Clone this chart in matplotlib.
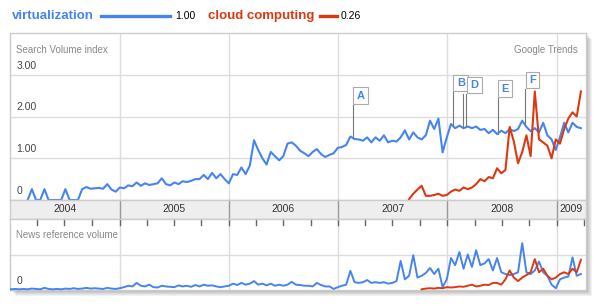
import numpy as np
import pandas as pd
import matplotlib
matplotlib.use("Agg")
import matplotlib.pyplot as plt
import matplotlib.dates as mdates
from matplotlib.patches import Rectangle

plt.rcParams['font.family'] = ['Liberation Sans', 'DejaVu Sans']

# biweekly samples
dates = pd.date_range('2004-01-04', periods=137, freq='14D')

search_virt = [
    np.nan, np.nan, np.nan, np.nan, 0, 0.26, 0, 0, 0.26, 0, 0, 0, 0, 0.26, 0, 0, 0,
    0.26, 0.31, 0.27, 0.28, 0.29, 0.27, 0.38, 0.25, 0.2,
    0.3, 0.28, 0.35, 0.33, 0.42, 0.34, 0.4, 0.36, 0.38, 0.4, 0.52, 0.38, 0.35,
    0.42, 0.38, 0.45, 0.43, 0.46, 0.5, 0.5, 0.6, 0.5, 0.65, 0.52, 0.62, 0.5,
    0.4, 0.62, 0.6, 0.78, 0.62, 0.82, 1.43, 1.2, 1.0, 0.85, 1.15, 1.05, 0.95,
    1.05, 1.35, 1.38, 1.3, 1.18, 1.12, 1.05, 1.15, 1.22, 1.1, 1.03, 1.08, 1.12,
    1.25, 1.27, 1.32, 1.52, 1.46, 1.45, 1.42, 1.5, 1.38, 1.5, 1.42, 1.55, 1.38,
    1.42, 1.4, 1.5, 1.67, 1.45, 1.62, 1.5, 1.45, 1.55, 1.9, 1.7, 1.95, 1.14,
    1.5, 1.82, 1.72, 1.78, 1.72, 1.76, 1.72, 1.76, 1.68, 1.7, 1.6, 1.68, 1.58,
    1.66, 1.6, 1.7, 1.65, 1.7, 1.9, 1.75, 1.65, 1.72, 1.62, 1.85, 1.55, 1.45,
    1.2, 1.5, 1.85, 1.62, 1.85, 1.75, 1.72,
]

search_cloud = [np.nan] * 95 + [
    0.02, 0.15, 0.25, 0.34, 0.1, 0.1, 0.12, 0.15, 0.1,
    0.12, 0.2, 0.25, 0.22, 0.3, 0.26, 0.3, 0.38, 0.5, 0.45, 0.55, 0.52, 0.76,
    0.64, 0.72, 1.75, 1.4, 0.88, 1.15, 1.55, 1.05, 2.6, 1.45, 1.38, 1.3, 1.0,
    1.45, 1.35, 1.7, 1.95, 2.1, 2.0, 2.6,
]

news_virt = [
    0.02, 0.03, 0.02, 0.03, 0.02, 0.04, 0.03, 0.02, 0.06, 0.03, 0.02, 0.03, 0.02,
    0.04, 0.03, 0.05, 0.03, 0.04, 0.06, 0.04, 0.05, 0.04, 0.03, 0.06, 0.04, 0.03,
    0.05, 0.08, 0.12, 0.1, 0.2, 0.12, 0.1, 0.15, 0.08, 0.07, 0.12, 0.1, 0.09,
    0.08, 0.13, 0.1, 0.12, 0.09, 0.14, 0.1, 0.15, 0.12, 0.13, 0.1, 0.08, 0.1,
    0.12, 0.18, 0.14, 0.2, 0.15, 0.18, 0.25, 0.15, 0.18, 0.13, 0.18, 0.12, 0.15,
    0.12, 0.15, 0.23, 0.15, 0.14, 0.12, 0.12, 0.1, 0.2, 0.14, 0.1, 0.1, 0.03,
    0.08, 0.12, 0.15, 0.54, 0.22, 0.2, 0.22, 0.28, 0.2, 0.22, 0.2, 0.22, 0.18,
    0.2, 0.25, 0.82, 0.3, 0.4, 0.98, 0.35, 0.4, 0.48, 0.62, 0.45, 0.6, 0.08,
    0.3, 0.9, 0.7, 1.07, 0.6, 1.0, 0.65, 1.12, 0.7, 0.75, 0.87, 0.55, 0.9,
    0.5, 0.45, 0.42, 0.45, 0.5, 1.32, 0.5, 0.45, 0.55, 0.8, 0.5, 0.4, 0.15,
    0.05, 0.3, 0.35, 0.38, 0.92, 0.4, 0.45,
]

news_cloud = [np.nan] * 98 + [
    0.02, 0.04, 0.05, 0.04, 0.06, 0.05,
    0.08, 0.07, 0.08, 0.1, 0.09, 0.12, 0.15, 0.1, 0.12, 0.15, 0.14, 0.2, 0.2,
    0.15, 0.3, 0.55, 0.35, 0.25, 0.35, 0.42, 0.5, 0.87, 0.5, 0.6, 0.4, 0.3,
    0.35, 0.45, 0.5, 0.45, 0.6, 0.5, 0.85,
]

years = ['2004', '2005', '2006', '2007', '2008', '2009']
# C sits fully behind D in the picture, so only its stem shows
event_letters = ['A', 'B', 'C', 'D', 'E', 'F']
event_dates = ['2007-02-19', '2008-01-19', '2008-02-21', '2008-03-04', '2008-06-17', '2008-09-16']
event_box_y = [2.28, 2.59, 2.54, 2.54, 2.45, 2.66]
event_shown = [True, True, False, True, True, True]

BLUE = '#4684ee'
RED = '#dc3912'
GRID = '#dddddd'

W, H = 600, 306
fig = plt.figure(figsize=(W / 100, H / 100), dpi=100)


def fx(px):
    return px / W


def fy(py):
    return 1 - py / H


x0, x1 = fx(10), fx(586)
ax = fig.add_axes([x0, fy(200), x1 - x0, fy(33) - fy(200)])
band = fig.add_axes([x0, fy(219), x1 - x0, fy(200) - fy(219)])
axn = fig.add_axes([x0, fy(290), x1 - x0, fy(219) - fy(290)])

# drop shadow behind the frame
for k in range(1, 7):
    fig.patches.append(Rectangle((fx(10 + k), fy(290 + k)), x1 - x0, fy(33) - fy(290),
                                 transform=fig.transFigure, facecolor='#000000',
                                 alpha=0.05, edgecolor='none', zorder=-5))

xmin, xmax = pd.Timestamp('2004-01-01'), pd.Timestamp('2009-04-08')
year_starts = [pd.Timestamp(f'{y}-01-01') for y in years]
quarters = pd.date_range('2004-01-01', '2009-04-01', freq='QS')

for a in (ax, band, axn):
    a.set_xlim(xmin, xmax)
    a.set_xticks([])
    a.set_yticks([])
    for s in a.spines.values():
        s.set_color('#cccccc')
        s.set_linewidth(1)

# main panel
ax.set_ylim(0, 4)
for v in [1, 2, 3]:
    ax.axhline(v, color=GRID, lw=1, zorder=0)
for d in year_starts[1:]:
    ax.axvline(d, color=GRID, lw=1, zorder=0)
ax.plot(dates, search_virt, color=BLUE, lw=1.5, clip_on=False, zorder=3)
ax.plot(dates, search_cloud, color=RED, lw=1.5, clip_on=False, zorder=4)
for v, lab in zip([3, 2, 1, 0], ['3.00', '2.00', '1.00', '0']):
    ax.text(0.011, v + 0.1, lab, transform=ax.get_yaxis_transform(), fontsize=7.5,
            color='#444444', va='bottom', ha='left')
ax.text(0.011, 0.9, 'Search Volume index', transform=ax.transAxes, fontsize=7,
        color='#888888', va='center')
ax.text(0.985, 0.9, 'Google Trends', transform=ax.transAxes, fontsize=7,
        color='#888888', va='center', ha='right')

# event markers
dnum = mdates.date2num(dates)
vals = np.array(search_virt, dtype=float)
ok = ~np.isnan(vals)
for letter, d, yb, shown in zip(event_letters, event_dates, event_box_y, event_shown):
    xd = mdates.date2num(pd.Timestamp(d))
    yv = np.interp(xd, dnum[ok], vals[ok])
    ax.plot([xd, xd], [yv, yb], color='#777777', lw=0.8, zorder=5)
    if not shown:
        continue
    ax.annotate(letter, xy=(xd, yb), xytext=(4, 4), textcoords='offset pixels',
                ha='left', va='bottom', fontsize=8, fontweight='bold', color=BLUE,
                bbox=dict(boxstyle='square,pad=0.3', fc='white', ec='#aaaaaa', lw=0.8),
                zorder=6)

# year band
band.set_facecolor('#eeeeee')
band.set_ylim(0, 1)
for d in year_starts[1:]:
    band.axvline(d, color='#999999', lw=1)
for i, y in enumerate(years):
    left = year_starts[i]
    right = year_starts[i + 1] if i + 1 < len(years) else xmax
    mid = left + (right - left) / 2
    band.text(mid, 0.5, y, ha='center', va='center', fontsize=7.5, color='#333333')

# news panel
axn.set_ylim(0, 2)
axn.axhline(1, color=GRID, lw=1, zorder=0)
for d in year_starts[1:]:
    axn.axvline(d, color=GRID, lw=1, zorder=0)
axn.plot(dates, news_virt, color=BLUE, lw=1.4, clip_on=False, zorder=3)
axn.plot(dates, news_cloud, color=RED, lw=1.4, clip_on=False, zorder=4)
for q in quarters[1:]:
    axn.plot([q, q], [2, 1.84], color='#666666', lw=1, zorder=2, clip_on=False)
axn.text(0.011, 0.78, 'News reference volume', transform=axn.transAxes, fontsize=7,
         color='#888888', va='center')
axn.text(0.011, 0.05, '0', transform=axn.transAxes, fontsize=7.5, color='#444444',
         va='bottom')

# legend row
ly = fy(16)
fig.text(fx(12), ly, 'virtualization', color=BLUE, fontsize=9.5, fontweight='bold', va='center')
fig.add_artist(plt.Line2D([fx(101), fx(170)], [ly, ly], color=BLUE, lw=2.4))
fig.text(fx(175), ly, '1.00', color='black', fontsize=7.5, va='center')
fig.text(fx(208), ly, 'cloud computing', color=RED, fontsize=9.5, fontweight='bold', va='center')
fig.add_artist(plt.Line2D([fx(320), fx(337)], [ly, ly], color=RED, lw=2.4))
fig.text(fx(341), ly, '0.26', color='black', fontsize=7.5, va='center')

fig.savefig('out.png', dpi=100)
